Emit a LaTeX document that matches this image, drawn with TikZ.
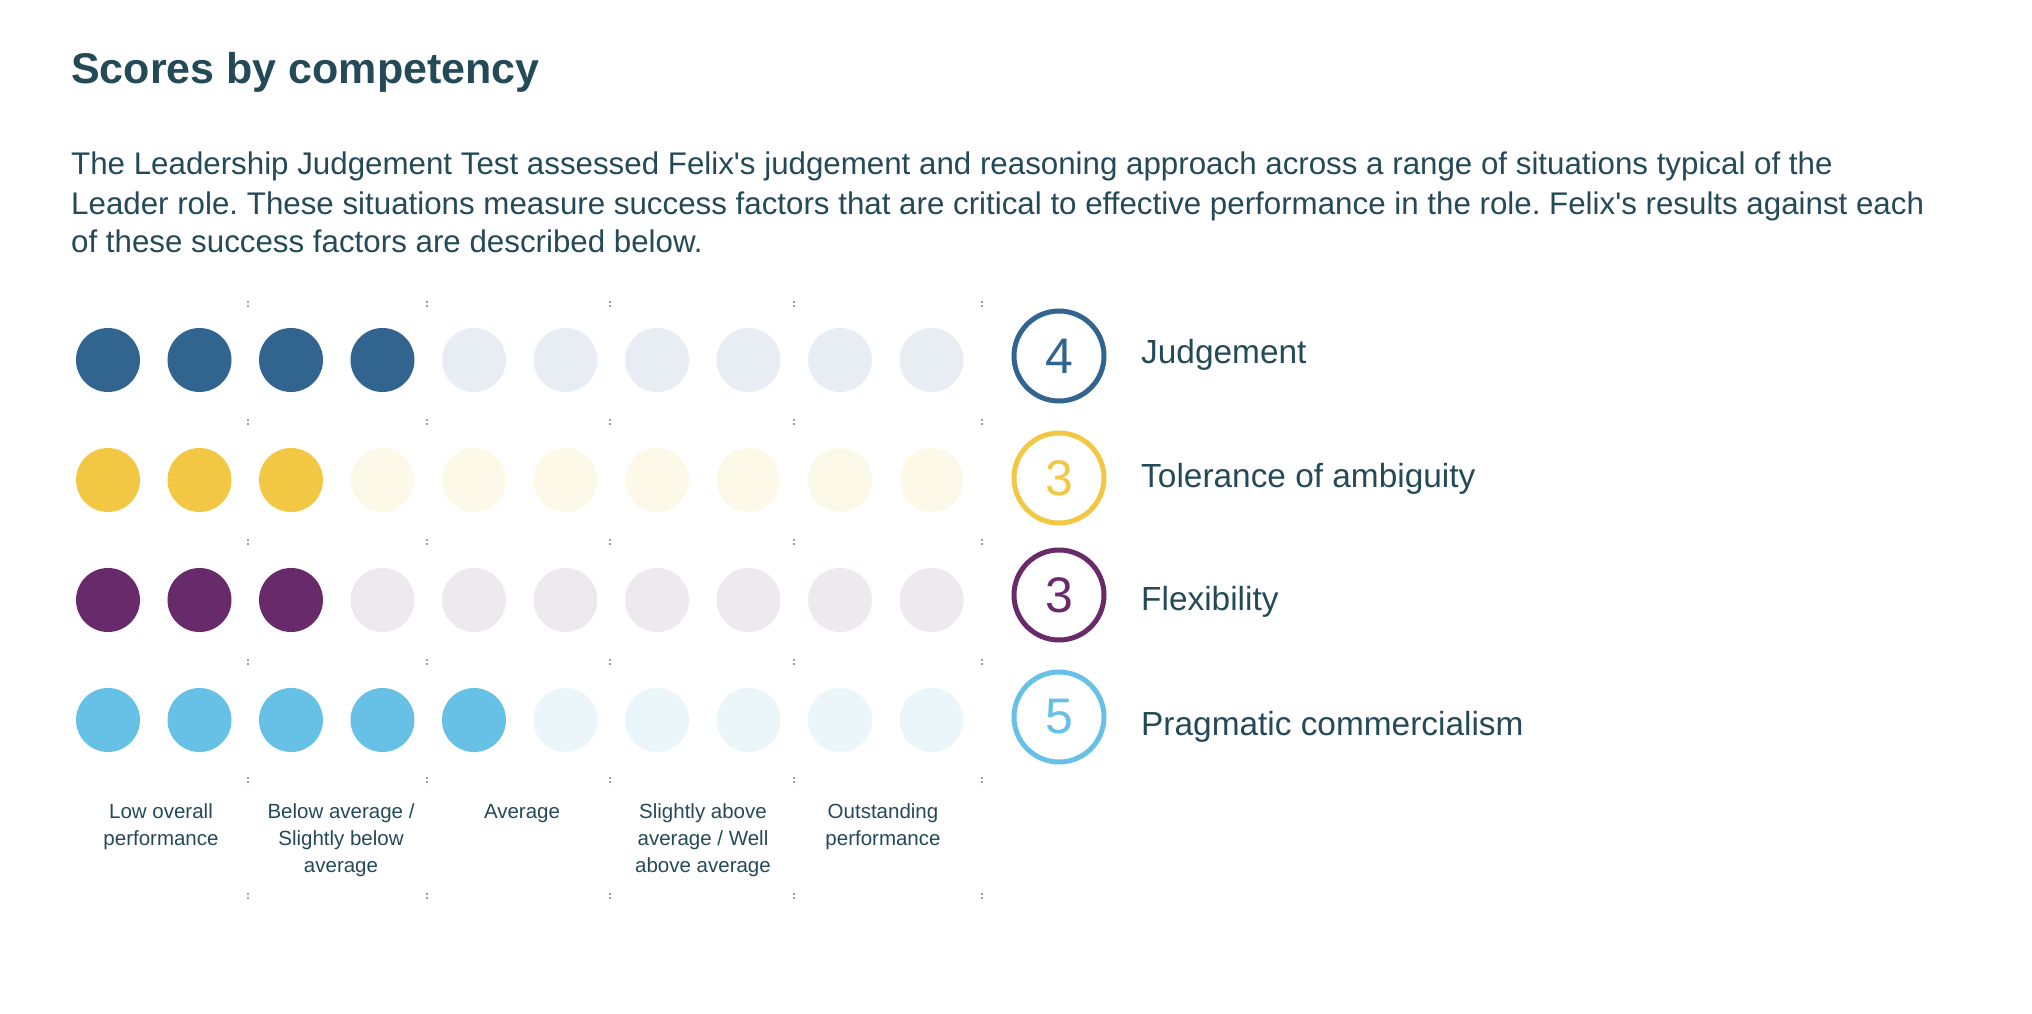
\documentclass[tikz,border=0pt]{standalone}
\usepackage{fontspec}
\setmainfont{Liberation Sans}
\frenchspacing
\definecolor{txt}{HTML}{244A58}
\definecolor{cA}{HTML}{31648F}\definecolor{lA}{HTML}{E8EDF3}
\definecolor{cB}{HTML}{F2C744}\definecolor{lB}{HTML}{FDF9E8}
\definecolor{cC}{HTML}{682A6B}\definecolor{lC}{HTML}{EEE8EF}
\definecolor{cD}{HTML}{67C1E7}\definecolor{lD}{HTML}{EBF6FB}
\definecolor{tk}{HTML}{A0A0A0}
\begin{document}
\begin{tikzpicture}[x=1pt,y=-1pt,
  dot/.style={circle,minimum size=64pt,inner sep=0pt},
  ring/.style={circle,minimum size=90pt,inner sep=0pt,line width=5pt,font=\fontsize{50}{50}\selectfont},
  lbl/.style={anchor=base west,inner sep=0pt,text=txt,font=\fontsize{33.4}{36}\selectfont},
  bodyl/.style={anchor=base west,inner sep=0pt,text=txt,font=\fontsize{31.3}{36}\selectfont},
  cat/.style={anchor=base,inner sep=0pt,text=txt,font=\fontsize{20.5}{24}\selectfont},
  tick/.style={draw=tk,line width=2pt,dash pattern=on 2pt off 2pt}]
\useasboundingbox (0,0) rectangle (2032,1014);
\node[anchor=base west,text=txt,font=\bfseries\fontsize{43}{48}\selectfont,inner sep=0pt] (title) at (71,84) {Scores by competency};
\node[bodyl] (b1) at (71,175) {The Leadership Judgement Test assessed Felix\textquotesingle s judgement and reasoning approach across a range of situations typical of the};
\node[bodyl] (b2) at (71,214) {Leader role. These situations measure success factors that are critical to effective performance in the role. Felix\textquotesingle s results against each};
\node[bodyl] (b3) at (71,252) {of these success factors are described below.};
% ticks
\foreach \x in {248,427,610,794,982}{
  \foreach \y in {305,423,543,663,781,897}{
    \draw[tick] (\x,\y-4) -- (\x,\y+4);
  }
}
% dots
\foreach \r/\yy/\n/\c/\l in {1/360/4/cA/lA,2/480/3/cB/lB,3/600/3/cC/lC,4/720/5/cD/lD}{
  \foreach \i in {1,...,10}{
    \pgfmathtruncatemacro\on{\i<=\n ? 1 : 0}
    \ifnum\on=1
      \node[dot,fill=\c] (d\r-\i) at ({108+91.5*(\i-1)},\yy) {};
    \else
      \node[dot,fill=\l] (d\r-\i) at ({108+91.5*(\i-1)},\yy) {};
    \fi
  }
}
\node[ring,draw=cA,text=cA] (r1) at (1059,356) {4};
\node[ring,draw=cB,text=cB] (r2) at (1059,478) {3};
\node[ring,draw=cC,text=cC] (r3) at (1059,595) {3};
\node[ring,draw=cD,text=cD] (r4) at (1059,717) {5};
\node[lbl] (l1) at (1141,363) {Judgement};
\node[lbl] (l2) at (1141,487) {Tolerance of ambiguity};
\node[lbl] (l3) at (1141,610) {Flexibility};
\node[lbl] (l4) at (1141,735) {Pragmatic commercialism};
\node[cat] (c1a) at (161,818) {Low overall};
\node[cat] (c1b) at (161,845) {performance};
\node[cat] (c2a) at (341,818) {Below average /};
\node[cat] (c2b) at (341,845) {Slightly below};
\node[cat] (c2c) at (341,872) {average};
\node[cat] (c3a) at (522,818) {Average};
\node[cat] (c4a) at (703,818) {Slightly above};
\node[cat] (c4b) at (703,845) {average / Well};
\node[cat] (c4c) at (703,872) {above average};
\node[cat] (c5a) at (883,818) {Outstanding};
\node[cat] (c5b) at (883,845) {performance};
\end{tikzpicture}
\end{document}
